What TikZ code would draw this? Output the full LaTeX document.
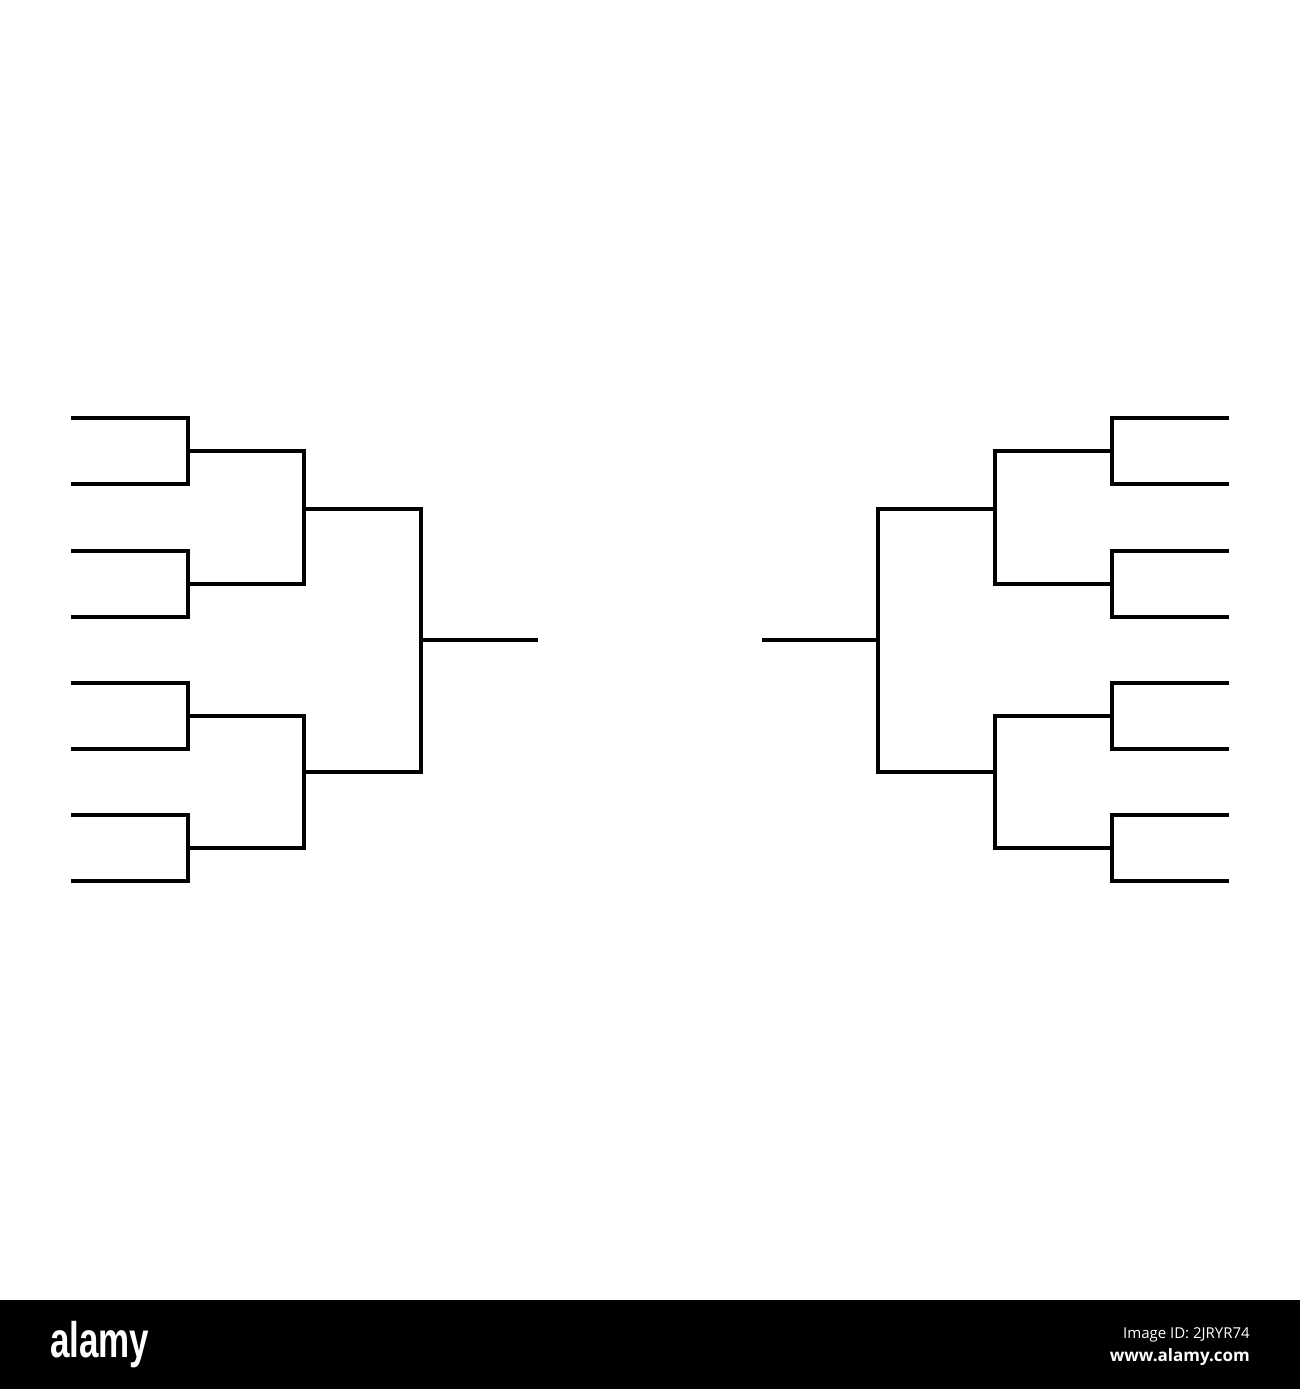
\documentclass[tikz,border=0pt]{standalone}
\usepackage{fontspec}
\setmainfont{Open Sans}
\newfontfamily\wmfont{Liberation Sans}
\begin{document}
\begin{tikzpicture}[x=1pt,y=-1pt,
  bracket/.style={line width=4pt,line join=miter,black},
  wmtext/.style={text=white,inner sep=0pt}]
\useasboundingbox (0,0) rectangle (1300,1389);
\fill[white] (0,0) rectangle (1300,1389);
% ---------- left half ----------
\foreach \n/\ya/\yb in {1/418/484,2/551/617,3/683/749,4/815/881}{
  \coordinate (La\n) at (71,\ya);
  \coordinate (Lb\n) at (71,\yb);
  \draw[bracket] (La\n) -- (188,\ya) -- (188,\yb) -- (Lb\n);
}
\foreach \n/\ya/\yb in {1/451/584,2/716/848}{
  \draw[bracket] (188,\ya) -- (304,\ya) -- (304,\yb) -- (188,\yb);
}
\draw[bracket] (304,509) -- (421,509) -- (421,772) -- (304,772);
\coordinate (Lfin) at (538,640);
\draw[bracket] (421,640) -- (Lfin);
% ---------- right half ----------
\foreach \n/\ya/\yb in {1/418/484,2/551/617,3/683/749,4/815/881}{
  \coordinate (Ra\n) at (1229,\ya);
  \coordinate (Rb\n) at (1229,\yb);
  \draw[bracket] (Ra\n) -- (1112,\ya) -- (1112,\yb) -- (Rb\n);
}
\foreach \n/\ya/\yb in {1/451/584,2/716/848}{
  \draw[bracket] (1112,\ya) -- (995,\ya) -- (995,\yb) -- (1112,\yb);
}
\draw[bracket] (995,509) -- (878,509) -- (878,772) -- (995,772);
\coordinate (Rfin) at (762,640);
\draw[bracket] (878,640) -- (Rfin);
% ---------- watermark bar ----------
\fill[black] (0,1300) rectangle (1300,1389);
\node[wmtext,anchor=base west] (alamy) at (50,1357)
  {\scalebox{0.7}[1]{\wmfont\bfseries\fontsize{50}{50}\selectfont alamy}};
\node[wmtext,anchor=base east] (imgid) at (1250,1338)
  {\fontsize{15}{15}\selectfont Image ID: 2JRYR74};
\node[wmtext,anchor=base east] (www) at (1250,1361)
  {\fontsize{17}{17}\selectfont\bfseries www.alamy.com};
\end{tikzpicture}
\end{document}
